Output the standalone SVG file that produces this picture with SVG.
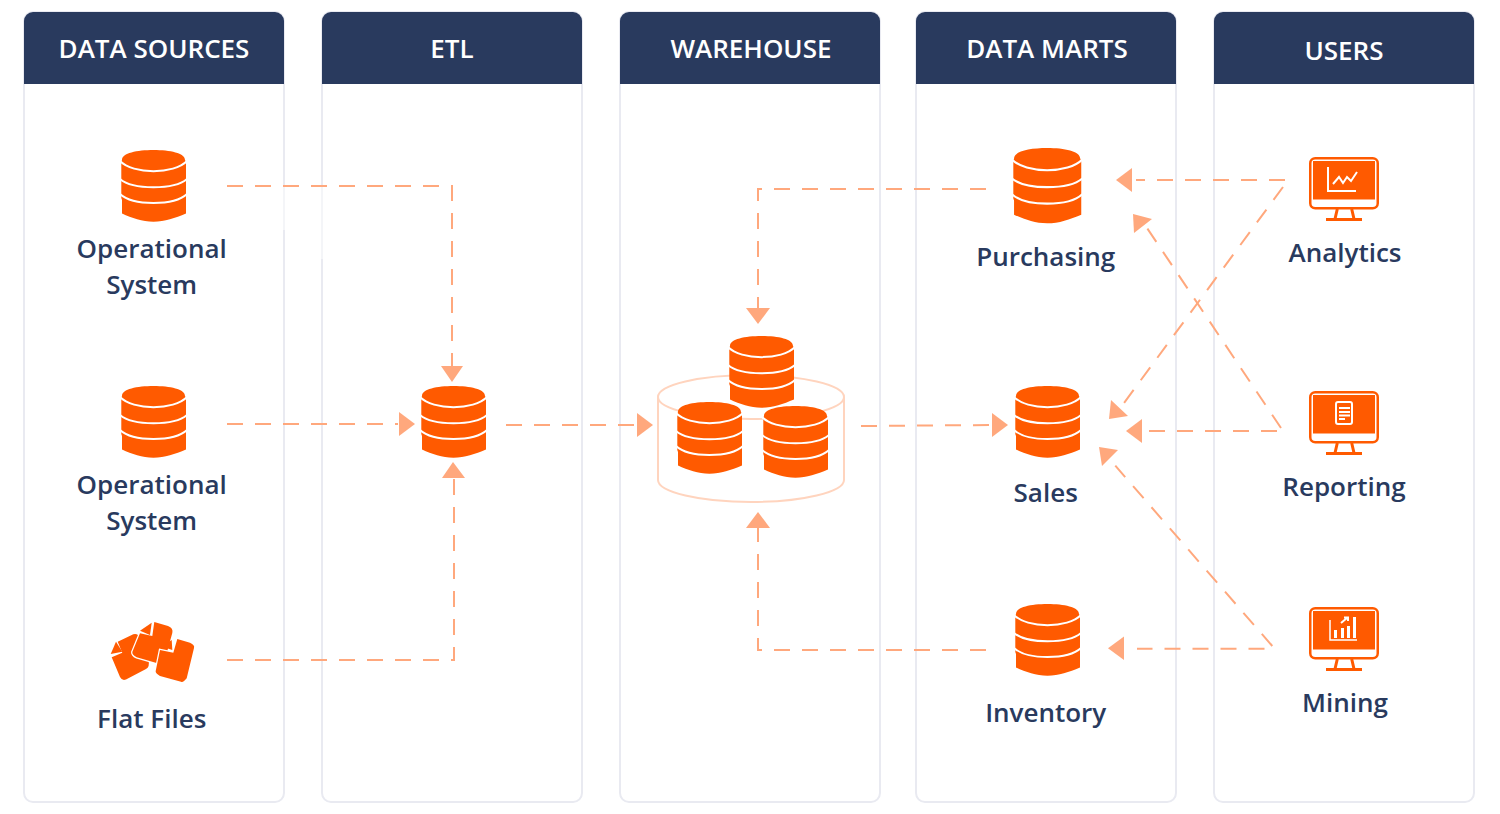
<svg xmlns="http://www.w3.org/2000/svg" width="1500" height="814" viewBox="0 0 1500 814">
<style>
.panel{fill:#fff;stroke:#E9EAF1;stroke-width:2}
.head{fill:#293A5E}
.ht{font:600 26px "Open Sans",sans-serif;fill:#fff;text-anchor:middle}
.lb{font:600 26px "Open Sans",sans-serif;fill:#293A5E;text-anchor:middle}
.ln{fill:none;stroke:#FFA87D;stroke-width:2;stroke-dasharray:16 12}
.ah{fill:#FFA87D}
.wl{fill:none;stroke:#fff;stroke-width:2}
.or{fill:#FF5A00}
.doc{fill:#FF5A00;stroke:#fff;stroke-width:2.500;paint-order:stroke}
</style>
<defs>
<g id="db">
<path class="or" d="M1 10C1 3 16 0 32.500 0S64 3 64 10L65 12V63.500C54 68 44 71.700 32.500 71.700S11 68 1 63.500V50L0.300 48V12Z"/>
<path fill="none" stroke="#fff" stroke-width="2" d="M-1 11C12 24.500 53 24.500 66 11M-1 29C12 40 53 40 66 29M-1 44C12 56 53 56 66 44"/>
</g>
<g id="monitor">
<rect x="1.250" y="1.250" width="67.500" height="50" rx="5" fill="#fff" stroke="#FF5A00" stroke-width="2.500"/>
<rect class="or" x="4" y="4" width="62" height="38.500"/>
<path fill="none" stroke="#FF5A00" stroke-width="3" d="M28.300 52L26 62M42.700 52L45 62M17 62.500H53"/>
</g>
</defs>
<g id="col-sources"><rect class="panel" x="24" y="12" width="260" height="790" rx="9"/><path class="head" d="M24 84V21a9 9 0 0 1 9-9H275a9 9 0 0 1 9 9V84Z"/><text class="ht" x="154" y="58">DATA SOURCES</text></g>
<g id="col-etl"><rect class="panel" x="322" y="12" width="260" height="790" rx="9"/><path class="head" d="M322 84V21a9 9 0 0 1 9-9H573a9 9 0 0 1 9 9V84Z"/><text class="ht" x="452" y="58">ETL</text></g>
<g id="col-warehouse"><rect class="panel" x="620" y="12" width="260" height="790" rx="9"/><path class="head" d="M620 84V21a9 9 0 0 1 9-9H871a9 9 0 0 1 9 9V84Z"/><text class="ht" x="751" y="58">WAREHOUSE</text></g>
<g id="col-marts"><rect class="panel" x="916" y="12" width="260" height="790" rx="9"/><path class="head" d="M916 84V21a9 9 0 0 1 9-9H1167a9 9 0 0 1 9 9V84Z"/><text class="ht" x="1047" y="58">DATA MARTS</text></g>
<g id="col-users"><rect class="panel" x="1214" y="12" width="260" height="790" rx="9"/><path class="head" d="M1214 84V21a9 9 0 0 1 9-9H1465a9 9 0 0 1 9 9V84Z"/><text class="ht" x="1344" y="60">USERS</text></g>
<path fill="#fff" opacity=".5" d="M283 186h2v44h-2ZM321 186h2v73h-2Z"/>
<g id="connectors">
<path class="ln" d="M227 186H452V366"/><path class="ah" d="M441 366H463L452 382Z"/>
<path class="ln" d="M227 424H398"/><path class="ah" d="M399 412V436L415 424Z"/>
<path class="ln" d="M227 660H454V478"/><path class="ah" d="M442 478H465L453 462Z"/>
<path class="ln" d="M506 425H636"/><path class="ah" d="M637 413V437L653 425Z"/>
<path class="ln" d="M861 426L992 425"/><path class="ah" d="M992 413V437L1008 425Z"/>
<path class="ln" d="M986 189H758V308"/><path class="ah" d="M746 308H770L758 324Z"/>
<path class="ln" d="M986 650H758V528"/><path class="ah" d="M746 528H770L758 512Z"/>
<path class="ln" d="M1285 180H1136"/><path class="ah" d="M1132 168V192L1116 180Z"/>
<path class="ln" d="M1283 187L1124 403"/><path class="ah" d="M1109 419L1128 416L1111 400Z"/>
<path class="ln" d="M1281 428L1145 225"/><path class="ah" d="M1133 214L1152 219L1134 233Z"/>
<path class="ln" d="M1277 431H1149"/><path class="ah" d="M1142 419V443L1126 431Z"/>
<path class="ln" d="M1272.300 646L1115.300 465.700"/><path class="ah" d="M1099 447L1118 450L1102 466Z"/>
<path class="ln" d="M1264.500 648.700H1137"/><path class="ah" d="M1124 636.500V660L1108 648.300Z"/>
</g>
<g id="node-os1"><use href="#db" x="121" y="150"/><text class="lb" x="151.700" y="258">Operational</text><text class="lb" x="151.700" y="294">System</text></g>
<g id="node-os2"><use href="#db" x="121" y="386"/><text class="lb" x="151.700" y="494">Operational</text><text class="lb" x="151.700" y="530">System</text></g>
<g id="node-flat">
<path class="or" d="M117.700 641.700L133.300 634.300Q138 633 140 638L148.500 660Q150 667 146 669L126 679.500Q122 681 120 677L111.700 657.300L122.300 652.700Z"/>
<path class="or" d="M116 641.700L122.300 651.700L110.700 654Z"/>
<path class="doc" d="M154.300 622L168 626Q173.500 628 172.300 633L164 663Q162 665 160 664L136.700 657.300Q132 655 132.300 652L140 633.300L152.300 636Z"/>
<path class="or" d="M151.700 622.700L150 635L140 630.700Z"/>
<path class="doc" d="M177.300 639L190 642.700Q195 645 194 648L186.700 678.300Q183 683 181 681.700L160 676Q155 673 155.700 671L160 650L173.300 652.700Z"/>
<path class="or" d="M171.700 640L172.300 650L162.300 646.700Z"/>
<text class="lb" x="151.700" y="728">Flat Files</text>
</g>
<g id="node-etl"><use href="#db" x="421" y="386"/></g>
<g id="node-warehouse">
<path fill="none" stroke="#FFD4BE" stroke-width="2" d="M658 397C658 385 700 375 751 375S844 385 844 397C844 409 802 419 751 419S658 409 658 397ZM658 397V480C658 492 700 502 751 502S844 492 844 480V397"/>
<use href="#db" x="729" y="336"/><use href="#db" x="677" y="402"/><use href="#db" x="763" y="406"/>
</g>
<g id="node-purchasing"><use href="#db" transform="translate(1013 148) scale(1.05)"/><text class="lb" x="1045.700" y="266">Purchasing</text></g>
<g id="node-sales"><use href="#db" x="1015" y="386"/><text class="lb" x="1045.700" y="502">Sales</text></g>
<g id="node-inventory"><use href="#db" x="1015" y="604"/><text class="lb" x="1045.700" y="722">Inventory</text></g>
<g id="node-analytics"><use href="#monitor" x="1309" y="157"/>
<path class="wl" d="M1328 167V191H1356M1333 184L1339 177L1343 183L1347 177L1351 181L1357 172"/>
<text class="lb" x="1345" y="262">Analytics</text></g>
<g id="node-reporting"><use href="#monitor" x="1309" y="391"/>
<rect x="1336" y="402" width="16" height="22" rx="2" class="wl"/><path class="wl" d="M1339 408H1350M1339 412H1350M1339 415.500H1350M1339 419H1345"/>
<text class="lb" x="1344" y="496">Reporting</text></g>
<g id="node-mining"><use href="#monitor" x="1309" y="607"/>
<path fill="none" stroke="#fff" stroke-width="1.500" d="M1330 620V640H1357"/>
<path fill="#fff" d="M1334 630h3v8h-3ZM1341 628h3v10h-3ZM1347 626h3v12h-3ZM1353 617h3v21h-3Z"/>
<path class="wl" d="M1341 623L1347 618M1344 617.500H1348V621"/>
<text class="lb" x="1345" y="712">Mining</text></g>
</svg>
